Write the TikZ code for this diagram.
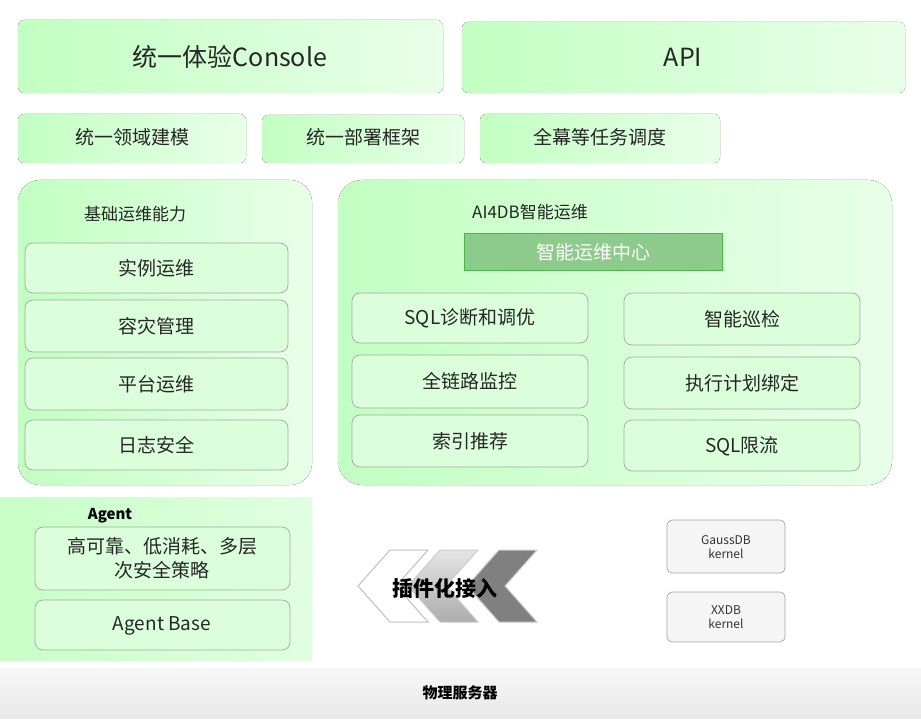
\documentclass[tikz,border=0pt]{standalone}
\usepackage{fontspec}
\setmainfont{Noto Sans CJK SC}
\begin{document}
\begin{tikzpicture}[x=1pt,y=-1pt,
  gbox/.style={left color=green!24!white,right color=green!9!white,rounded corners=6pt},
  item/.style={draw=gray!70,fill=green!14!white,rounded corners=8pt,line width=0.7pt},
  kern/.style={draw=gray!70,fill=gray!8,rounded corners=5pt,line width=0.7pt},
  txt/.style={font=\fontsize{19}{22}\selectfont,text=black!85}]
\useasboundingbox (0,0) rectangle (921,722);
\fill[white] (0,0) rectangle (921,722);
% top
\fill[gbox] (18,20) rectangle (443,93); \node[txt,font=\fontsize{25}{28}\selectfont] (console) at (230,57) {统一体验Console};
\fill[gbox] (462,22) rectangle (905,93); \node[txt,font=\fontsize{25}{28}\selectfont] (api) at (683,57) {API};
\fill[gbox] (18,114) rectangle (246,163); \node[txt] (m1) at (132,137) {统一领域建模};
\fill[gbox] (262,115) rectangle (464,163); \node[txt] (m2) at (363,137) {统一部署框架};
\fill[gbox] (480,114) rectangle (720,163); \node[txt] (m3) at (600,137) {全幕等任务调度};
% basic
\fill[gbox,rounded corners=22pt] (18,180) rectangle (312,485);
\node[txt,font=\fontsize{17}{20}\selectfont] (b0) at (135,214) {基础运维能力};
\draw[item] (25,243) rectangle (288,293); \node[txt] (b1) at (156,268) {实例运维};
\draw[item] (25,300) rectangle (288,352); \node[txt] (b2) at (156,326) {容灾管理};
\draw[item] (25,358) rectangle (288,410); \node[txt] (b3) at (156,384) {平台运维};
\draw[item] (25,420) rectangle (288,470); \node[txt] (b4) at (156,445) {日志安全};
% AI4DB
\fill[gbox,rounded corners=24pt] (338,180) rectangle (892,485);
\node[txt,font=\fontsize{17}{20}\selectfont] (a0) at (530,212) {AI4DB智能运维};
\draw[draw=green!45!gray,fill=green!55!black!45!white] (464,233) rectangle (722,270);
\node[txt,text=white] (a1) at (593,252) {智能运维中心};
\draw[item] (352,293) rectangle (588,343); \node[txt] (l1) at (470,318) {SQL诊断和调优};
\draw[item] (352,355) rectangle (588,408); \node[txt] (l2) at (470,381) {全链路监控};
\draw[item] (352,415) rectangle (588,467); \node[txt] (l3) at (470,441) {索引推荐};
\draw[item] (624,293) rectangle (860,345); \node[txt] (r1) at (742,319) {智能巡检};
\draw[item] (624,357) rectangle (860,409); \node[txt] (r2) at (742,383) {执行计划绑定};
\draw[item] (624,420) rectangle (860,471); \node[txt] (r3) at (742,446) {SQL限流};
% agent
\fill[left color=green!22!white,right color=green!12!white] (0,497) rectangle (312,660);
\node[font=\bfseries\fontsize{15}{17}\selectfont] (ag) at (110,516) {Agent};
\draw[item] (35,527) rectangle (290,590);
\node[txt,align=center,font=\fontsize{19}{24}\selectfont] (g1) at (162,558) {高可靠、低消耗、多层\\次安全策略};
\draw[item] (35,600) rectangle (290,650); \node[txt] (g2) at (162,626) {Agent Base};
% kernels
\draw[kern] (667,520) rectangle (785,573);
\node[align=center,font=\fontsize{12}{14}\selectfont,text=black!80] (k1) at (726,547) {GaussDB\\kernel};
\draw[kern] (667,592) rectangle (785,642);
\node[align=center,font=\fontsize{12}{14}\selectfont,text=black!80] (k2) at (726,617) {XXDB\\kernel};
% chevrons
\def\chev#1{(#1+32,550) -- (#1+70,550) -- (#1+38,586) -- (#1+70,622) -- (#1+32,622) -- (#1,586) -- cycle}
\draw[gray!50,fill=white,line width=1pt] \chev{358};
\draw[gray!40,top color=gray!20,bottom color=gray!65,line width=1pt] \chev{408};
\draw[gray!40,fill=black!50,line width=1pt] \chev{467};
\node[font=\bfseries\fontsize{21}{24}\selectfont] (plug) at (445,588) {插件化接入};
% bottom
\fill[top color=gray!6,bottom color=gray!18] (0,668) rectangle (921,718);
\node[font=\bfseries\fontsize{15}{17}\selectfont] (srv) at (460,693) {物理服务器};
\end{tikzpicture}
\end{document}
